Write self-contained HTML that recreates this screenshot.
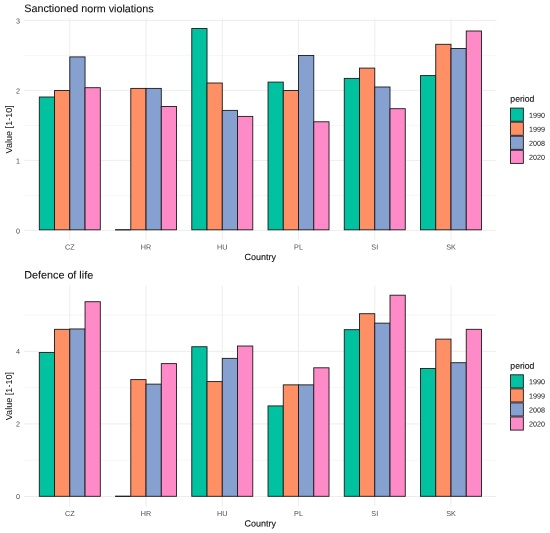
<!DOCTYPE html>
<html><head><meta charset="utf-8"><title>Charts</title>
<style>
html,body{margin:0;padding:0;background:#fff;}
body{width:550px;height:533px;overflow:hidden;}
svg{display:block;}
text{font-family:"Liberation Sans",Arial,Helvetica,sans-serif;}
.at{font-size:7.2px;fill:#4D4D4D;}
.ax{font-size:9px;fill:#111;stroke:#111;stroke-width:0.12px;}
.ay{font-size:9.1px;fill:#111;}
.lg{font-size:8.7px;fill:#111;stroke:#111;stroke-width:0.12px;}
.tt{font-size:10.77px;fill:#111;stroke:#111;stroke-width:0.1px;}
.lt{font-size:7.2px;fill:#111;}
</style></head><body>
<svg width="550" height="533" viewBox="0 0 550 533">
<rect width="550" height="533" fill="#fff"/>
<g>
<line x1="24.06" x2="496.34" y1="195.40" y2="195.40" stroke="#EBEBEB" stroke-width="0.45"/>
<line x1="24.06" x2="496.34" y1="125.40" y2="125.40" stroke="#EBEBEB" stroke-width="0.45"/>
<line x1="24.06" x2="496.34" y1="55.40" y2="55.40" stroke="#EBEBEB" stroke-width="0.45"/>
<line x1="24.06" x2="496.34" y1="230.40" y2="230.40" stroke="#EBEBEB" stroke-width="0.9"/>
<line x1="24.06" x2="496.34" y1="160.40" y2="160.40" stroke="#EBEBEB" stroke-width="0.9"/>
<line x1="24.06" x2="496.34" y1="90.40" y2="90.40" stroke="#EBEBEB" stroke-width="0.9"/>
<line x1="24.06" x2="496.34" y1="20.40" y2="20.40" stroke="#EBEBEB" stroke-width="0.9"/>
<line x1="69.80" x2="69.80" y1="18.40" y2="240.00" stroke="#EBEBEB" stroke-width="0.9"/>
<line x1="146.04" x2="146.04" y1="18.40" y2="240.00" stroke="#EBEBEB" stroke-width="0.9"/>
<line x1="222.28" x2="222.28" y1="18.40" y2="240.00" stroke="#EBEBEB" stroke-width="0.9"/>
<line x1="298.52" x2="298.52" y1="18.40" y2="240.00" stroke="#EBEBEB" stroke-width="0.9"/>
<line x1="374.76" x2="374.76" y1="18.40" y2="240.00" stroke="#EBEBEB" stroke-width="0.9"/>
<line x1="451.00" x2="451.00" y1="18.40" y2="240.00" stroke="#EBEBEB" stroke-width="0.9"/>
</g>
<g stroke="#1a1a1a" stroke-width="0.9">
<rect x="39.30" y="97.01" width="15.25" height="132.79" fill="#00C2A0"/>
<rect x="54.55" y="90.50" width="15.25" height="139.30" fill="#FF8F64"/>
<rect x="69.80" y="56.90" width="15.25" height="172.90" fill="#86A0D0"/>
<rect x="85.05" y="87.70" width="15.25" height="142.10" fill="#FF8AC8"/>
<line x1="115.09" x2="130.79" y1="229.80" y2="229.80" stroke-width="1.3"/>
<rect x="130.79" y="88.40" width="15.25" height="141.40" fill="#FF8F64"/>
<rect x="146.04" y="88.40" width="15.25" height="141.40" fill="#86A0D0"/>
<rect x="161.29" y="106.46" width="15.25" height="123.34" fill="#FF8AC8"/>
<rect x="191.78" y="28.55" width="15.25" height="201.25" fill="#00C2A0"/>
<rect x="207.03" y="83.01" width="15.25" height="146.79" fill="#FF8F64"/>
<rect x="222.28" y="110.38" width="15.25" height="119.42" fill="#86A0D0"/>
<rect x="237.53" y="116.40" width="15.25" height="113.40" fill="#FF8AC8"/>
<rect x="268.02" y="82.10" width="15.25" height="147.70" fill="#00C2A0"/>
<rect x="283.27" y="90.50" width="15.25" height="139.30" fill="#FF8F64"/>
<rect x="298.52" y="55.50" width="15.25" height="174.30" fill="#86A0D0"/>
<rect x="313.77" y="121.79" width="15.25" height="108.01" fill="#FF8AC8"/>
<rect x="344.26" y="78.39" width="15.25" height="151.41" fill="#00C2A0"/>
<rect x="359.51" y="68.10" width="15.25" height="161.70" fill="#FF8F64"/>
<rect x="374.76" y="87.00" width="15.25" height="142.80" fill="#86A0D0"/>
<rect x="390.01" y="108.70" width="15.25" height="121.10" fill="#FF8AC8"/>
<rect x="420.50" y="75.59" width="15.25" height="154.21" fill="#00C2A0"/>
<rect x="435.75" y="44.30" width="15.25" height="185.50" fill="#FF8F64"/>
<rect x="451.00" y="48.50" width="15.25" height="181.30" fill="#86A0D0"/>
<rect x="466.25" y="31.00" width="15.25" height="198.80" fill="#FF8AC8"/>
</g>
<text x="19.90" y="233.40" transform="rotate(0.03 19.90 233.40)" text-anchor="end" class="at">0</text>
<text x="19.90" y="163.40" transform="rotate(0.03 19.90 163.40)" text-anchor="end" class="at">1</text>
<text x="19.90" y="93.40" transform="rotate(0.03 19.90 93.40)" text-anchor="end" class="at">2</text>
<text x="19.90" y="23.40" transform="rotate(0.03 19.90 23.40)" text-anchor="end" class="at">3</text>
<text x="69.80" y="249.40" transform="rotate(0.03 69.80 249.40)" text-anchor="middle" class="at">CZ</text>
<text x="146.04" y="249.40" transform="rotate(0.03 146.04 249.40)" text-anchor="middle" class="at">HR</text>
<text x="222.28" y="249.40" transform="rotate(0.03 222.28 249.40)" text-anchor="middle" class="at">HU</text>
<text x="298.52" y="249.40" transform="rotate(0.03 298.52 249.40)" text-anchor="middle" class="at">PL</text>
<text x="374.76" y="249.40" transform="rotate(0.03 374.76 249.40)" text-anchor="middle" class="at">SI</text>
<text x="451.00" y="249.40" transform="rotate(0.03 451.00 249.40)" text-anchor="middle" class="at">SK</text>
<text x="260.20" y="260.00" transform="rotate(0.03 260.20 260.00)" text-anchor="middle" class="ax">Country</text>
<text transform="translate(11.6,129.30) rotate(-90)" text-anchor="middle" class="ay">Value [1-10]</text>
<text x="24.30" y="12.10" transform="rotate(0.03 24.30 12.10)" class="tt">Sanctioned norm violations</text>
<text x="510.30" y="101.80" transform="rotate(0.03 510.30 101.80)" class="lg">period</text>
<g stroke="#1a1a1a" stroke-width="0.9">
<rect x="510.55" y="108.10" width="12.80" height="13.15" fill="#00C2A0"/>
<rect x="510.55" y="122.15" width="12.80" height="13.15" fill="#FF8F64"/>
<rect x="510.55" y="136.20" width="12.80" height="13.15" fill="#86A0D0"/>
<rect x="510.55" y="150.25" width="12.80" height="13.15" fill="#FF8AC8"/>
</g>
<text x="529.10" y="117.65" transform="rotate(0.03 529.10 117.65)" class="lt">1990</text>
<text x="529.10" y="131.70" transform="rotate(0.03 529.10 131.70)" class="lt">1999</text>
<text x="529.10" y="145.75" transform="rotate(0.03 529.10 145.75)" class="lt">2008</text>
<text x="529.10" y="159.80" transform="rotate(0.03 529.10 159.80)" class="lt">2020</text>
<g>
<line x1="24.06" x2="496.34" y1="460.20" y2="460.20" stroke="#EBEBEB" stroke-width="0.45"/>
<line x1="24.06" x2="496.34" y1="387.60" y2="387.60" stroke="#EBEBEB" stroke-width="0.45"/>
<line x1="24.06" x2="496.34" y1="315.00" y2="315.00" stroke="#EBEBEB" stroke-width="0.45"/>
<line x1="24.06" x2="496.34" y1="496.50" y2="496.50" stroke="#EBEBEB" stroke-width="0.9"/>
<line x1="24.06" x2="496.34" y1="423.90" y2="423.90" stroke="#EBEBEB" stroke-width="0.9"/>
<line x1="24.06" x2="496.34" y1="351.30" y2="351.30" stroke="#EBEBEB" stroke-width="0.9"/>
<line x1="69.80" x2="69.80" y1="285.50" y2="506.50" stroke="#EBEBEB" stroke-width="0.9"/>
<line x1="146.04" x2="146.04" y1="285.50" y2="506.50" stroke="#EBEBEB" stroke-width="0.9"/>
<line x1="222.28" x2="222.28" y1="285.50" y2="506.50" stroke="#EBEBEB" stroke-width="0.9"/>
<line x1="298.52" x2="298.52" y1="285.50" y2="506.50" stroke="#EBEBEB" stroke-width="0.9"/>
<line x1="374.76" x2="374.76" y1="285.50" y2="506.50" stroke="#EBEBEB" stroke-width="0.9"/>
<line x1="451.00" x2="451.00" y1="285.50" y2="506.50" stroke="#EBEBEB" stroke-width="0.9"/>
</g>
<g stroke="#1a1a1a" stroke-width="0.9">
<rect x="39.30" y="352.55" width="15.25" height="143.75" fill="#00C2A0"/>
<rect x="54.55" y="329.32" width="15.25" height="166.98" fill="#FF8F64"/>
<rect x="69.80" y="328.96" width="15.25" height="167.34" fill="#86A0D0"/>
<rect x="85.05" y="301.73" width="15.25" height="194.57" fill="#FF8AC8"/>
<line x1="115.09" x2="130.79" y1="496.30" y2="496.30" stroke-width="1.3"/>
<rect x="130.79" y="379.60" width="15.25" height="116.70" fill="#FF8F64"/>
<rect x="146.04" y="384.13" width="15.25" height="112.17" fill="#86A0D0"/>
<rect x="161.29" y="363.62" width="15.25" height="132.68" fill="#FF8AC8"/>
<rect x="191.78" y="346.74" width="15.25" height="149.56" fill="#00C2A0"/>
<rect x="207.03" y="381.59" width="15.25" height="114.71" fill="#FF8F64"/>
<rect x="222.28" y="358.36" width="15.25" height="137.94" fill="#86A0D0"/>
<rect x="237.53" y="346.02" width="15.25" height="150.28" fill="#FF8AC8"/>
<rect x="268.02" y="405.91" width="15.25" height="90.39" fill="#00C2A0"/>
<rect x="283.27" y="384.86" width="15.25" height="111.44" fill="#FF8F64"/>
<rect x="298.52" y="384.86" width="15.25" height="111.44" fill="#86A0D0"/>
<rect x="313.77" y="367.80" width="15.25" height="128.50" fill="#FF8AC8"/>
<rect x="344.26" y="329.68" width="15.25" height="166.62" fill="#00C2A0"/>
<rect x="359.51" y="313.71" width="15.25" height="182.59" fill="#FF8F64"/>
<rect x="374.76" y="323.15" width="15.25" height="173.15" fill="#86A0D0"/>
<rect x="390.01" y="295.20" width="15.25" height="201.10" fill="#FF8AC8"/>
<rect x="420.50" y="368.52" width="15.25" height="127.78" fill="#00C2A0"/>
<rect x="435.75" y="339.12" width="15.25" height="157.18" fill="#FF8F64"/>
<rect x="451.00" y="362.72" width="15.25" height="133.58" fill="#86A0D0"/>
<rect x="466.25" y="329.32" width="15.25" height="166.98" fill="#FF8AC8"/>
</g>
<text x="19.90" y="499.10" transform="rotate(0.03 19.90 499.10)" text-anchor="end" class="at">0</text>
<text x="19.90" y="426.50" transform="rotate(0.03 19.90 426.50)" text-anchor="end" class="at">2</text>
<text x="19.90" y="353.90" transform="rotate(0.03 19.90 353.90)" text-anchor="end" class="at">4</text>
<text x="69.80" y="515.90" transform="rotate(0.03 69.80 515.90)" text-anchor="middle" class="at">CZ</text>
<text x="146.04" y="515.90" transform="rotate(0.03 146.04 515.90)" text-anchor="middle" class="at">HR</text>
<text x="222.28" y="515.90" transform="rotate(0.03 222.28 515.90)" text-anchor="middle" class="at">HU</text>
<text x="298.52" y="515.90" transform="rotate(0.03 298.52 515.90)" text-anchor="middle" class="at">PL</text>
<text x="374.76" y="515.90" transform="rotate(0.03 374.76 515.90)" text-anchor="middle" class="at">SI</text>
<text x="451.00" y="515.90" transform="rotate(0.03 451.00 515.90)" text-anchor="middle" class="at">SK</text>
<text x="260.20" y="526.50" transform="rotate(0.03 260.20 526.50)" text-anchor="middle" class="ax">Country</text>
<text transform="translate(11.6,396.10) rotate(-90)" text-anchor="middle" class="ay">Value [1-10]</text>
<text x="24.30" y="278.60" transform="rotate(0.03 24.30 278.60)" class="tt">Defence of life</text>
<text x="510.30" y="368.70" transform="rotate(0.03 510.30 368.70)" class="lg">period</text>
<g stroke="#1a1a1a" stroke-width="0.9">
<rect x="510.55" y="374.80" width="12.80" height="13.15" fill="#00C2A0"/>
<rect x="510.55" y="388.85" width="12.80" height="13.15" fill="#FF8F64"/>
<rect x="510.55" y="402.90" width="12.80" height="13.15" fill="#86A0D0"/>
<rect x="510.55" y="416.95" width="12.80" height="13.15" fill="#FF8AC8"/>
</g>
<text x="529.10" y="384.35" transform="rotate(0.03 529.10 384.35)" class="lt">1990</text>
<text x="529.10" y="398.40" transform="rotate(0.03 529.10 398.40)" class="lt">1999</text>
<text x="529.10" y="412.45" transform="rotate(0.03 529.10 412.45)" class="lt">2008</text>
<text x="529.10" y="426.50" transform="rotate(0.03 529.10 426.50)" class="lt">2020</text>
</svg>
</body></html>
